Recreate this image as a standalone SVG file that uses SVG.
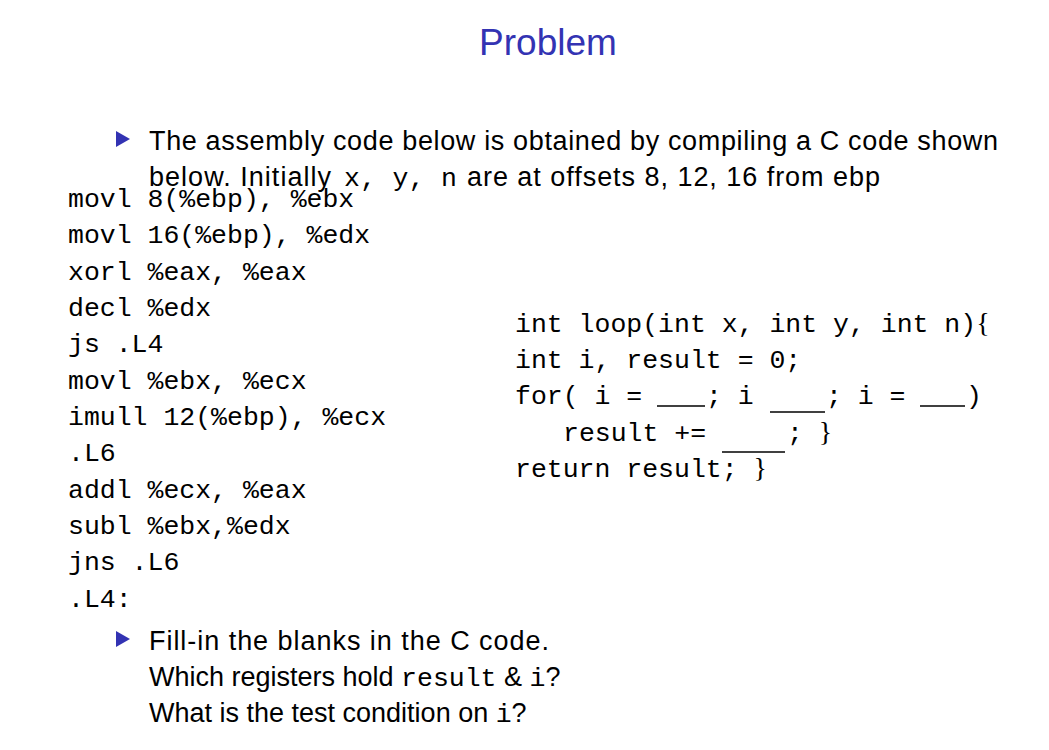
<svg xmlns="http://www.w3.org/2000/svg" width="1049" height="750" viewBox="0 0 1049 750">
<style>
.s{font-family:"Liberation Sans",Arial,sans-serif;font-size:27px;fill:#000}
.m{font-family:"Liberation Mono","DejaVu Sans Mono",monospace;font-size:26.5px;fill:#000}
.r{font-family:"Liberation Serif",serif;font-size:28px}
.u{stroke:#000;stroke-width:1.3}
.b{fill:#3333b3}
</style>
<rect width="1049" height="750" fill="#fff"/>
<text x="548" y="55" text-anchor="middle" font-family="Liberation Sans,Arial,sans-serif" font-size="37" fill="#3333b3">Problem</text>
<g id="bullet1">
<polygon class="b" points="116,131 130,139 116,147"/>
<text class="s" x="149" y="150" textLength="849">The assembly code below is obtained by compiling a C code shown</text>
<text class="s" x="149" y="186" textLength="182">below. Initially</text>
<text class="m" x="344" y="186" textLength="113">x, y, n</text>
<text class="s" x="467" y="186" textLength="413">are at offsets 8, 12, 16 from ebp</text>
</g>
<g id="asm" class="m">
<text x="68" y="207">movl 8(%ebp), %ebx</text>
<text x="68" y="243">movl 16(%ebp), %edx</text>
<text x="68" y="280">xorl %eax, %eax</text>
<text x="68" y="316">decl %edx</text>
<text x="68" y="352">js .L4</text>
<text x="68" y="389">movl %ebx, %ecx</text>
<text x="68" y="425">imull 12(%ebp), %ecx</text>
<text x="68" y="461">.L6</text>
<text x="68" y="498">addl %ecx, %eax</text>
<text x="68" y="534">subl %ebx,%edx</text>
<text x="68" y="570">jns .L6</text>
<text x="68" y="607">.L4:</text>
</g>
<g id="ccode">
<text class="m" x="515" y="332">int loop(int x, int y, int n)<tspan class="r">{</tspan></text>
<text class="m" x="515" y="368">int i, result = 0;</text>
<text class="m" x="515" y="404">for( i = </text>
<text class="m" x="706" y="404">; i</text>
<text class="m" x="826" y="404">; i =</text>
<text class="m" x="966" y="404">)</text>
<line class="u" x1="657" y1="406" x2="705" y2="406"/>
<line class="u" x1="770" y1="412" x2="825" y2="412"/>
<line class="u" x1="920" y1="406" x2="965" y2="406"/>
<text class="m" x="563" y="441">result +=</text>
<line class="u" x1="722" y1="452" x2="785" y2="452"/>
<text class="m" x="787" y="441">; <tspan class="r">}</tspan></text>
<text class="m" x="515" y="477">return result; <tspan class="r">}</tspan></text>
</g>
<g id="bullet2">
<polygon class="b" points="116,631 130,639 116,647"/>
<text class="s" x="149" y="650" textLength="400">Fill-in the blanks in the C code.</text>
<text class="s" x="149" y="686">Which registers hold <tspan class="m">result</tspan> &amp; <tspan class="m">i</tspan>?</text>
<text class="s" x="149" y="722">What is the test condition on <tspan class="m">i</tspan>?</text>
</g>
</svg>
